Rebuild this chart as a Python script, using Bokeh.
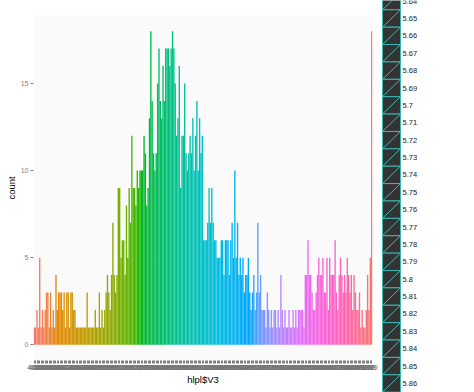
import math
from bokeh.plotting import figure
from bokeh.models import FactorRange, Range1d, ColumnDataSource, FixedTicker
from bokeh.layouts import row
from bokeh.embed import file_html
from bokeh.resources import INLINE
from bokeh.core.properties import value

# ---- data -------------------------------------------------------------
def fmt(n):
    return f"{n / 100:.2f}".rstrip("0").rstrip(".")

# x categories: hlpl$V3 levels (4.51 ... 7)
levels = [fmt(n) for n in range(451, 701)]

# counts for each level (10 per row)
counts = [
    1, 1, 2, 1, 5, 1, 2, 1, 2, 3,
    3, 1, 3, 1, 2, 1, 4, 2, 3, 3,
    3, 2, 3, 1, 3, 3, 1, 3, 3, 2,
    2, 1, 1, 1, 1, 1, 1, 1, 1, 3,
    1, 1, 1, 1, 1, 2, 1, 1, 3, 1,
    2, 1, 2, 3, 4, 3, 2, 4, 7, 4,
    3, 4, 9, 9, 5, 6, 6, 4, 8, 5,
    9, 7, 12, 9, 9, 8, 10, 9, 10, 10,
    10, 12, 11, 8, 9, 13, 18, 14, 11, 10,
    11, 15, 17, 14, 13, 16, 14, 17, 17, 17,
    16, 17, 18, 17, 15, 12, 13, 16, 9, 12,
    12, 15, 11, 10, 11, 12, 11, 13, 10, 12,
    14, 10, 13, 11, 12, 6, 6, 6, 7, 9,
    7, 9, 7, 6, 6, 5, 5, 5, 6, 6,
    4, 6, 6, 6, 4, 6, 7, 5, 10, 5,
    7, 4, 5, 4, 5, 3, 4, 4, 5, 3,
    2, 3, 4, 2, 3, 7, 3, 4, 2, 2,
    2, 1, 3, 2, 1, 2, 1, 2, 2, 1,
    2, 1, 4, 2, 1, 2, 1, 1, 2, 1,
    1, 2, 1, 2, 1, 2, 2, 2, 2, 1,
    4, 4, 6, 4, 4, 3, 2, 2, 3, 4,
    5, 4, 4, 5, 3, 3, 5, 2, 5, 4,
    4, 4, 6, 3, 2, 4, 5, 4, 3, 4,
    3, 5, 4, 3, 4, 2, 4, 3, 2, 2,
    3, 1, 2, 1, 1, 2, 4, 2, 5, 18,
]

y_ticks = [0, 5, 10, 15]
y_minor = [2.5, 7.5, 12.5, 17.5]

legend_first, legend_last = "5.64", "5.86"
legend_labels = levels[levels.index(legend_first): levels.index(legend_last) + 1]


# ---- ggplot-like hue palette (HCL, c=100, l=65) -----------------------
def hcl_to_hex(h, c=100.0, l=65.0):
    Xn, Yn, Zn = 95.047, 100.0, 108.883
    un = 4 * Xn / (Xn + 15 * Yn + 3 * Zn)
    vn = 9 * Yn / (Xn + 15 * Yn + 3 * Zn)
    u = c * math.cos(math.radians(h))
    v = c * math.sin(math.radians(h))
    Y = Yn * ((l + 16) / 116) ** 3
    up = u / (13 * l) + un
    vp = v / (13 * l) + vn
    X = 9 * Y * up / (4 * vp)
    Z = Y * (12 - 3 * up - 20 * vp) / (4 * vp)
    X, Y, Z = X / 100, Y / 100, Z / 100
    r = 3.2404542 * X - 1.5371385 * Y - 0.4985314 * Z
    g = -0.9692660 * X + 1.8760108 * Y + 0.0415560 * Z
    b = 0.0556434 * X - 0.2040259 * Y + 1.0572252 * Z

    def gam(t):
        t = 12.92 * t if t <= 0.0031308 else 1.055 * t ** (1 / 2.4) - 0.055
        return int(round(min(max(t, 0.0), 1.0) * 255))

    return "#%02x%02x%02x" % (gam(r), gam(g), gam(b))


n = len(levels)
h0, h1 = 15.0, 375.0 - 360.0 / n
colors = [hcl_to_hex((h0 + (h1 - h0) * i / (n - 1)) % 360) for i in range(n)]

FONT = "Liberation Sans"

# ---- main histogram ---------------------------------------------------
BORDER_L, BORDER_R, BORDER_T, BORDER_B = 33, 8, 15, 27
FRAME_W, FRAME_H = 339, 345
p = figure(
    width=BORDER_L + FRAME_W + BORDER_R, height=BORDER_T + FRAME_H + BORDER_B,
    frame_width=FRAME_W, frame_height=FRAME_H,
    x_range=FactorRange(factors=levels, range_padding=0.2 / n, range_padding_units="percent"),
    y_range=Range1d(-0.9, 18.9),
    output_backend="svg", toolbar_location=None,
    min_border_left=BORDER_L, min_border_right=BORDER_R,
    min_border_top=BORDER_T, min_border_bottom=BORDER_B,
)
if hasattr(p, "frame_align"):
    p.frame_align = False
p.background_fill_color = "#FAFAFA"
p.border_fill_color = "white"
p.outline_line_color = None

src = ColumnDataSource(dict(x=levels, top=counts, color=colors))
p.vbar(x="x", top="top", width=1.0, fill_color="color", line_color=None, source=src)

p.xgrid.grid_line_color = None
p.ygrid.ticker = FixedTicker(ticks=y_ticks, minor_ticks=y_minor)
p.ygrid.grid_line_color = "white"
p.ygrid.grid_line_width = 1
p.ygrid.minor_grid_line_color = "white"
p.ygrid.minor_grid_line_width = 0.5

p.yaxis.ticker = FixedTicker(ticks=y_ticks, minor_ticks=y_minor)
for ax in (p.xaxis[0], p.yaxis[0]):
    ax.axis_line_color = None
    ax.major_tick_line_color = "#7F7F7F"
    ax.major_tick_out = 3
    ax.major_tick_in = 0
    ax.minor_tick_line_color = None
    ax.major_label_text_font = FONT
    ax.major_label_text_color = "#7F7F7F"
    ax.major_label_standoff = 1
    ax.axis_label_text_font = FONT
    ax.axis_label_text_font_style = "normal"
    ax.axis_label_text_color = "black"
    ax.axis_label_text_font_size = "9.5px"
    ax.axis_label_standoff = 1

p.xaxis.axis_label = "hlpl$V3"
p.xaxis.major_label_text_font_size = "7.5px"
p.xaxis.major_label_text_color = "#777777"
p.xaxis.major_label_orientation = "horizontal"
p.yaxis.axis_label = "count"
p.yaxis.major_label_text_font_size = "7px"

# ---- legend (overflowing, as in the reference) ------------------------
LEG_X0 = BORDER_L + FRAME_W + BORDER_R
LEG_W, LEG_H = 90, 392
step = 17.38
first_center = 0.6
lf = figure(
    width=LEG_W, height=LEG_H, frame_width=LEG_W, frame_height=LEG_H,
    x_range=Range1d(LEG_X0, LEG_X0 + LEG_W),
    y_range=Range1d(start=(LEG_H - first_center) / step, end=(0 - first_center) / step),
    output_backend="svg", toolbar_location=None,
    min_border=0, min_border_left=0, min_border_right=0, min_border_top=0, min_border_bottom=0,
)
if hasattr(lf, "frame_align"):
    lf.frame_align = False
lf.axis.visible = False
lf.grid.grid_line_color = None
lf.outline_line_color = None
lf.background_fill_color = "white"
lf.border_fill_color = "white"

idx = list(range(len(legend_labels)))
ls = ColumnDataSource(dict(
    y=idx,
    y0=[i + 0.5 for i in idx],
    y1=[i - 0.5 for i in idx],
    label=legend_labels,
))
key_left, key_right = 382, 400
lf.rect(x=(key_left + key_right) / 2, y="y", width=key_right - key_left, height=1,
        fill_color="#333333", line_color="#3DB7B2", line_width=1, source=ls)
lf.segment(x0=key_left, y0="y0", x1=key_right, y1="y1",
           line_color="#3DB7B2", line_width=1, source=ls)
lf.text(x=402, y="y", text="label", text_baseline="middle", text_align="left",
        text_font=value(FONT), text_font_size="7.5px", text_color="#1A1A1A", source=ls)

layout = row(p, lf)
open("out.html", "w").write(file_html(layout, INLINE))
